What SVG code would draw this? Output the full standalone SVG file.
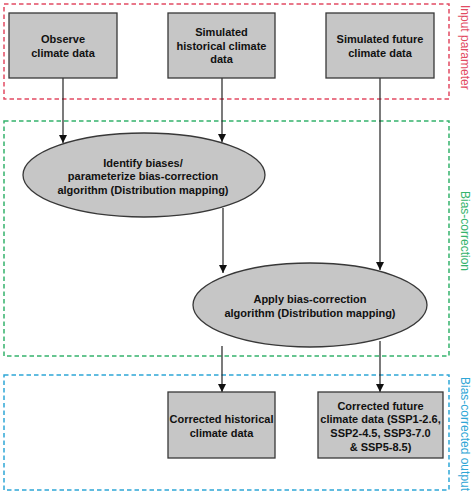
<svg xmlns="http://www.w3.org/2000/svg" width="474" height="495" viewBox="0 0 474 495">
<style>
.grp{fill:none;stroke-width:1.5;stroke-dasharray:4.5 3}
.box{fill:#c6c6c6;stroke:#383838;stroke-width:1.3}
.t{font-family:"Liberation Sans",Arial,sans-serif;font-size:11px;font-weight:bold;fill:#111;text-anchor:middle}
.side{font-family:"Liberation Sans",Arial,sans-serif;font-size:12px}
.conn line{stroke:#222;stroke-width:1.2}
</style>
<defs>
<marker id="ah" viewBox="0 0 10 10" refX="10" refY="5" markerWidth="8" markerHeight="8" markerUnits="userSpaceOnUse" orient="auto">
<path d="M0,0 L10,5 L0,10 z" fill="#111"/>
</marker>
</defs>
<rect width="474" height="495" fill="#fff"/>
<g id="group-input">
<rect class="grp" x="4" y="4" width="445" height="95" stroke="#e24b63"/>
<text class="side" fill="#e24b63" transform="translate(461,5) rotate(90)">Input parameter</text>
</g>
<g id="group-bias">
<rect class="grp" x="4" y="121" width="445" height="235" stroke="#35b36c"/>
<text class="side" fill="#35b36c" text-anchor="middle" transform="translate(461,231) rotate(90)">Bias-correction</text>
</g>
<g id="group-output">
<rect class="grp" x="4" y="375" width="445" height="115" stroke="#2ea6d6"/>
<text class="side" fill="#2ea6d6" transform="translate(461,377) rotate(90)">Bias-corrected output</text>
</g>
<g class="conn" id="connectors">
<line x1="63" y1="78" x2="63" y2="143" marker-end="url(#ah)"/>
<line x1="222" y1="78" x2="222" y2="142" marker-end="url(#ah)"/>
<line x1="380" y1="78" x2="380" y2="270" marker-end="url(#ah)"/>
<line x1="223" y1="208" x2="223" y2="273" marker-end="url(#ah)"/>
<line x1="222" y1="346" x2="222" y2="392" marker-end="url(#ah)"/>
<line x1="380" y1="341" x2="380" y2="392" marker-end="url(#ah)"/>
</g>
<g id="node-observe">
<rect class="box" x="9" y="13" width="108" height="65"/>
<text class="t" x="63" y="43">Observe</text>
<text class="t" x="63" y="57">climate data</text>
</g>
<g id="node-sim-hist">
<rect class="box" x="168" y="13" width="107" height="65"/>
<text class="t" x="221.5" y="36">Simulated</text>
<text class="t" x="221.5" y="50">historical climate</text>
<text class="t" x="221.5" y="63">data</text>
</g>
<g id="node-sim-future">
<rect class="box" x="326" y="13" width="108" height="65"/>
<text class="t" x="380" y="43">Simulated future</text>
<text class="t" x="380" y="57">climate data</text>
</g>
<g id="node-identify">
<ellipse class="box" cx="144" cy="175" rx="121" ry="42"/>
<text class="t" x="143" y="167">Identify biases/</text>
<text class="t" x="143" y="180">parameterize bias-correction</text>
<text class="t" x="143" y="194">algorithm (Distribution mapping)</text>
</g>
<g id="node-apply">
<ellipse class="box" cx="310" cy="305" rx="117" ry="42"/>
<text class="t" x="310" y="303">Apply bias-correction</text>
<text class="t" x="310" y="317">algorithm (Distribution mapping)</text>
</g>
<g id="node-corr-hist">
<rect class="box" x="168" y="392" width="107" height="66"/>
<text class="t" x="221.5" y="423">Corrected historical</text>
<text class="t" x="221.5" y="437">climate data</text>
</g>
<g id="node-corr-future">
<rect class="box" x="318" y="392" width="125" height="66"/>
<text class="t" x="380.5" y="410">Corrected future</text>
<text class="t" x="380.5" y="423">climate data (SSP1-2.6,</text>
<text class="t" x="380.5" y="437">SSP2-4.5, SSP3-7.0</text>
<text class="t" x="380.5" y="451">&amp; SSP5-8.5)</text>
</g>
</svg>
